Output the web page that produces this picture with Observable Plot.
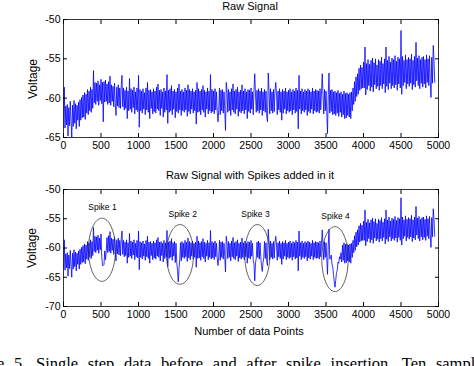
<!DOCTYPE html>
<html><head><meta charset="utf-8">
<script src="https://cdn.jsdelivr.net/npm/d3@7"></script>
<script src="https://cdn.jsdelivr.net/npm/@observablehq/plot@0.6"></script>
<style>
html,body{margin:0;padding:0;background:#fff;}
#wrap{position:relative;width:474px;height:366px;overflow:hidden;font-family:"Liberation Sans",Arial,sans-serif;color:#000;}
.t{position:absolute;white-space:nowrap;}
.p{position:absolute;left:0;}
</style></head><body><div id="wrap"></div>
<script>
// sample spacing (data points per stored value)
const sampleStep = 10;
// raw signal values, x = 0, 10, 20, ... 4950
const rawValues = [
-63.6,-58.6,-63.8,-61.0,-63.4,-60.8,-64.8,-61.2,-63.5,-60.4,-62.9,-65.0,-60.9,-63.6,-60.3,-63.2,-60.7,-63.9,-60.9,-62.8,
-60.5,-63.6,-60.2,-62.8,-59.9,-62.5,-59.6,-62.4,-59.3,-62.7,-59.5,-61.9,-58.9,-62.1,-59.1,-61.6,-58.6,-61.8,-58.9,-61.3,
-56.5,-60.6,-58.0,-60.8,-58.1,-60.4,-57.8,-60.9,-58.3,-60.3,-57.6,-60.7,-58.0,-63.0,-57.9,-60.5,-57.7,-60.4,-58.2,-60.8,
-57.9,-60.6,-57.2,-60.9,-58.3,-60.4,-58.5,-61.1,-58.1,-60.7,-62.2,-58.6,-61.0,-58.3,-61.2,-58.7,-61.3,-58.4,-57.1,-61.1,
-58.7,-61.5,-59.0,-61.3,-58.6,-62.6,-59.1,-61.6,-57.5,-61.4,-58.8,-61.8,-59.0,-61.2,-58.6,-62.0,-59.2,-61.5,-58.7,-61.7,
-57.1,-63.7,-58.9,-61.6,-59.1,-61.9,-58.8,-61.4,-59.3,-62.1,-58.7,-61.5,-58.0,-61.8,-59.0,-62.6,-58.9,-61.3,-59.2,-62.0,
-58.8,-61.7,-59.1,-61.9,-58.6,-61.4,-58.2,-61.6,-59.0,-62.2,-58.9,-61.3,-59.2,-62.4,-58.7,-61.8,-59.1,-61.5,-57.0,-63.2,
-59.0,-61.8,-58.8,-61.6,-58.4,-62.1,-59.1,-61.4,-58.9,-62.5,-59.2,-61.7,-58.7,-61.9,-58.2,-61.5,-59.1,-62.2,-58.9,-61.6,
-59.2,-61.8,-58.7,-61.5,-59.0,-62.3,-58.3,-61.7,-58.9,-62.0,-59.1,-61.4,-58.8,-61.9,-59.2,-61.6,-59.0,-63.3,-58.0,-61.8,
-58.8,-61.7,-59.1,-62.1,-58.9,-61.5,-58.4,-61.8,-59.0,-62.4,-59.2,-61.4,-58.7,-62.0,-59.1,-61.6,-57.0,-61.9,-58.9,-61.7,
-59.1,-62.0,-58.8,-61.5,-59.2,-61.8,-63.0,-61.4,-58.7,-62.1,-59.0,-61.6,-58.9,-61.9,-59.2,-61.5,-64.1,-58.0,-59.1,-61.8,
-58.9,-61.6,-59.2,-62.2,-58.8,-61.5,-58.2,-61.8,-59.1,-62.0,-58.9,-61.4,-58.6,-62.3,-59.2,-61.7,-59.0,-61.9,-58.3,-61.6,
-59.1,-62.0,-58.8,-61.5,-59.2,-62.6,-58.9,-61.7,-59.0,-61.9,-58.7,-61.4,-59.2,-62.1,-58.9,-56.9,-59.6,-61.8,-59.0,-61.6,
-58.8,-61.9,-59.1,-61.5,-58.7,-62.2,-59.2,-61.6,-58.9,-61.8,-59.1,-62.3,-63.0,-56.8,-59.0,-62.0,-58.8,-61.6,-59.2,-61.9,
-58.9,-61.7,-59.0,-58.0,-59.5,-62.1,-59.1,-61.5,-58.8,-61.8,-59.2,-62.8,-58.9,-61.9,-59.1,-61.4,-58.7,-62.0,-59.2,-61.6,
-59.0,-61.8,-58.8,-61.6,-59.2,-62.1,-58.9,-61.5,-59.1,-61.9,-58.7,-61.7,-59.0,-63.9,-57.1,-61.4,-59.1,-62.0,-58.8,-61.6,
-59.2,-61.8,-58.9,-61.5,-59.1,-62.2,-58.8,-61.7,-59.0,-61.9,-59.2,-61.4,-58.7,-62.0,-59.1,-61.6,-58.9,-61.8,-59.0,-61.7,
-59.1,-61.9,-58.8,-61.5,-59.2,-56.9,-59.7,-62.0,-58.9,-61.6,-59.1,-61.8,-64.5,-59.5,-56.8,-61.9,-59.0,-61.7,-58.9,-62.1,
-59.2,-62.0,-59.1,-62.2,-59.3,-61.9,-59.0,-62.3,-59.4,-61.8,-59.2,-62.4,-59.5,-62.1,-59.1,-62.6,-59.4,-62.5,-59.3,-62.2,
-59.5,-62.4,-59.3,-62.6,-59.2,-61.6,-58.7,-60.8,-57.9,-60.4,-57.3,-59.8,-56.9,-59.5,-56.2,-59.0,-55.8,-58.8,-56.1,-58.7,
-55.4,-58.7,-53.5,-59.6,-55.6,-58.9,-55.1,-58.4,-55.7,-59.1,-55.2,-58.6,-54.9,-59.2,-55.5,-58.3,-55.0,-58.8,-55.8,-58.5,
-55.1,-59.0,-55.3,-58.4,-54.8,-58.8,-55.6,-58.2,-55.0,-59.3,-53.5,-58.5,-55.2,-58.9,-54.7,-58.1,-55.4,-58.8,-54.9,-58.4,
-55.1,-58.7,-54.6,-58.3,-55.3,-59.0,-54.8,-58.2,-55.0,-58.7,-51.4,-59.5,-54.7,-58.4,-55.2,-58.0,-54.5,-58.8,-55.1,-58.2,
-54.8,-58.5,-55.0,-58.1,-54.4,-58.9,-55.2,-58.3,-54.7,-58.6,-52.9,-57.8,-54.9,-58.4,-54.6,-58.8,-55.1,-58.1,-54.8,-58.6,
-54.7,-58.2,-55.1,-58.7,-54.5,-58.0,-55.0,-58.4,-54.6,-57.9,-59.9,-54.8,-58.1,-53.3,-55.2,-58.0
];
// inserted spikes (data point position, voltage) for the lower chart
const spikeAtX = [510,520,540,560, 1510,1520,1530,1540,1550, 2540,2550,2560,2640,2650,2660,
  3560,3570,3580,3590,3600,3610,3620,3630,3640,3650,3660,3670,3680,3690,3700];
const spikeAtV = [-61.5,-63.0,-62.8,-62.0, -62.5,-63.8,-65.8,-63.5,-62.0, -62.8,-65.6,-62.5,-63.0,-64.0,-62.5,
  -61.8,-61.2,-62.8,-63.3,-64.5,-65.8,-66.7,-65.5,-64.2,-63.8,-62.4,-62.6,-61.5,-61.9,-60.8];
// annotation ellipses and labels
const spikeNames = ["Spike 1","Spike 2","Spike 3","Spike 4"];
const ellipseCx = [513, 1553, 2584, 3620];
const ellipseCy = [-60.3, -61.1, -61.2, -61.9];
const ellipseRx = [180, 180, 167, 176];
const ellipseRy = [5.4, 5.1, 5.2, 5.55];
const labelX = [520, 1590, 2560, 3627];
const labelY = [-53.1, -54.3, -54.3, -54.6];
// ticks
const xTicks = [0,500,1000,1500,2000,2500,3000,3500,4000,4500,5000];
const yTicksTop = [-65,-60,-55,-50];
const yTicksBottom = [-70,-65,-60,-55,-50];
const titleTop = "Raw Signal";
const titleBottom = "Raw Signal with Spikes added in it";
const yLabel = "Voltage";
const xLabel = "Number of data Points";
const caption = "e 5. Single step data before and after spike insertion. Ten sample";

const rawData = rawValues.map((v, i) => ({x: i * sampleStep, v}));
const spikeMap = new Map(spikeAtX.map((x, i) => [x, spikeAtV[i]]));
const spikedData = rawData.map(d => ({x: d.x, v: spikeMap.has(d.x) ? spikeMap.get(d.x) : d.v}));

const ellipsePts = [];
spikeNames.forEach((k, i) => {
  for (let a = 0; a <= 360; a += 4) {
    const t = a * Math.PI / 180;
    ellipsePts.push({k, x: ellipseCx[i] + ellipseRx[i] * Math.cos(t), y: ellipseCy[i] + ellipseRy[i] * Math.sin(t)});
  }
});
const labelData = spikeNames.map((k, i) => ({k, x: labelX[i], y: labelY[i]}));

function chart(data, yDomain, yTicks, height, marginTop, marginBottom, extra) {
  const blank = () => "";
  return Plot.plot({
    width: 474, height, marginLeft: 63, marginRight: 36, marginTop, marginBottom,
    style: {fontFamily: "Liberation Sans, Arial, sans-serif", fontSize: "10.5px", color: "#000", background: "transparent", overflow: "visible"},
    x: {domain: [0, 5000], label: null},
    y: {domain: yDomain, label: null},
    marks: [
      Plot.line(data, {x: "x", y: "v", stroke: "#0000ff", strokeWidth: 0.8, clip: true}),
      ...extra,
      Plot.frame({stroke: "#222", strokeWidth: 0.9}),
      Plot.axisX(xTicks, {tickSize: 0, tickPadding: 4, tickFormat: d => String(d), label: null}),
      Plot.axisX(xTicks, {tickSize: -4, tickFormat: blank, label: null}),
      Plot.axisX(xTicks, {anchor: "top", tickSize: -4, tickFormat: blank, label: null}),
      Plot.axisY(yTicks, {tickSize: 0, tickPadding: 3, tickFormat: d => String(d), label: null}),
      Plot.axisY(yTicks, {tickSize: -4, tickFormat: blank, label: null}),
      Plot.axisY(yTicks, {anchor: "right", tickSize: -4, tickFormat: blank, label: null})
    ]
  });
}

const wrap = document.getElementById("wrap");
function addText(txt, css) {
  const d = document.createElement("div");
  d.className = "t";
  d.textContent = txt;
  Object.assign(d.style, css);
  wrap.appendChild(d);
}

const topChart = chart(rawData, [-65, -50], yTicksTop, 160, 19, 23, []);
topChart.classList.add("p"); topChart.style.top = "0px";
wrap.appendChild(topChart);

const bottomChart = chart(spikedData, [-70, -50], yTicksBottom, 180, 29, 34, [
  Plot.line(ellipsePts, {x: "x", y: "y", z: "k", stroke: "#333", strokeWidth: 0.8}),
  Plot.text(labelData, {x: "x", y: "y", text: "k", fontSize: 8.5, fill: "#000"})
]);
bottomChart.classList.add("p"); bottomChart.style.top = "160px";
wrap.appendChild(bottomChart);

addText(titleTop, {left: "250px", top: "0px", fontSize: "11px", transform: "translateX(-50%)"});
addText(titleBottom, {left: "250px", top: "169px", fontSize: "11px", transform: "translateX(-50%)"});
addText(yLabel, {left: "33px", top: "79px", fontSize: "12px", transform: "translate(-50%,-50%) rotate(-90deg)"});
addText(yLabel, {left: "32px", top: "248px", fontSize: "12px", transform: "translate(-50%,-50%) rotate(-90deg)"});
addText(xLabel, {left: "249px", top: "325px", fontSize: "11px", transform: "translateX(-50%)"});
addText(caption, {left: "-3px", top: "355px", fontSize: "16.5px", lineHeight: "17px", wordSpacing: "5.5px", fontFamily: "'Liberation Serif', 'DejaVu Serif', serif"});
</script></body></html>
